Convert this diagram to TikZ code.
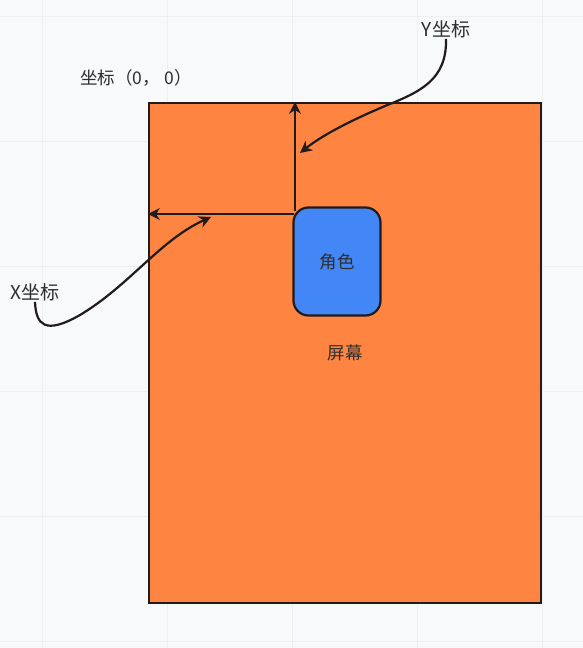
\documentclass[tikz,border=0pt]{standalone}
\usepackage{fontspec}
\setmainfont{Noto Sans CJK SC}
\usetikzlibrary{arrows.meta}
\definecolor{bgc}{HTML}{F8F9FA}
\definecolor{gridc}{HTML}{EEEFF1}
\definecolor{screenc}{HTML}{FE8442}
\definecolor{playerc}{HTML}{4386F5}
\definecolor{inkc}{HTML}{211B1C}
\definecolor{txtc}{HTML}{2E2E2E}
\tikzset{
  screenbox/.style={draw=inkc, line width=2.2pt, fill=screenc, minimum width=392pt, minimum height=500pt, inner sep=0pt, text=txtc, font=\fontsize{17.5}{19}\selectfont},
  playerbox/.style={draw=inkc, line width=2.2pt, fill=playerc, rounded corners=15pt, minimum width=87pt, minimum height=108pt, inner sep=0pt, text=txtc, font=\fontsize{17.5}{19}\selectfont},
  lbl/.style={text=txtc, inner sep=1pt, font=\fontsize{19}{21}\selectfont},
  arr/.style={draw=inkc, line width=2.2pt, -{Stealth[length=12pt,width=12pt]}},
}
\begin{document}
\begin{tikzpicture}[x=1pt,y=-1pt]
\fill[bgc] (0,0) rectangle (583,648);
\useasboundingbox (0,0) rectangle (583,648);
\foreach \gx in {42,167,292,417,542} \draw[gridc, line width=1pt] (\gx,0) -- (\gx,648);
\foreach \gy in {16,141,266,391,516,641} \draw[gridc, line width=1pt] (0,\gy) -- (583,\gy);
\node[screenbox] (screen) at (345,353) {屏幕};
\node[playerbox] (player) at (337,261.5) {角色};
\node[lbl, font=\fontsize{17.5}{20}\selectfont, anchor=west] (origin) at (79,78) {坐标（0，\hspace{5pt}0）};
\node[lbl] (ylab) at (446,29) {Y坐标};
\node[lbl] (xlab) at (35,292) {X坐标};
\coordinate (vy) at (295,211);
\coordinate (hx) at (294,214);
\draw[arr] (vy) -- (vy |- screen.north);
\draw[arr] (hx) -- (hx -| screen.west);
\coordinate (ytip) at (300,153);
\coordinate (xtip) at (211,217);
\draw[arr] (ylab.south) .. controls (447,80) and (420,92) .. (385,106) .. controls (345,123) and (320,137) .. (ytip);
\draw[arr] (xlab.south) .. controls (36,325) and (45,335) .. (80,315) .. controls (130,285) and (160,240) .. (xtip);
\end{tikzpicture}
\end{document}
